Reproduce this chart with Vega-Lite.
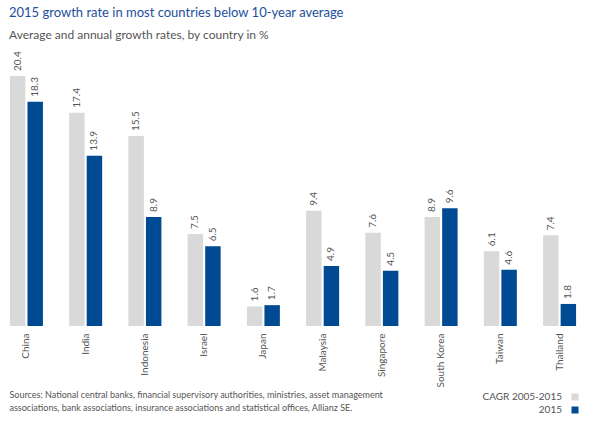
{
  "$schema": "https://vega.github.io/schema/vega-lite/v6.json",
  "width": 578,
  "height": 250,
  "autosize": {"type": "none"},
  "padding": {"left": 4, "top": 76, "right": 14, "bottom": 104},
  "background": "white",
  "title": {
    "text": "2015 growth rate in most countries below 10-year average",
    "subtitle": "Average and annual growth rates, by country in %",
    "anchor": "start",
    "dx": 5,
    "offset": 10,
    "font": "Lato",
    "fontSize": 13,
    "fontWeight": "normal",
    "color": "#1d4f9c",
    "subtitleFont": "Lato",
    "subtitleFontSize": 12,
    "subtitleColor": "#555555",
    "subtitlePadding": 10
  },
  "data": {
    "values": [
      {"Country": "China", "Series": "CAGR 2005-2015", "Rate": 20.4},
      {"Country": "China", "Series": "2015", "Rate": 18.3},
      {"Country": "India", "Series": "CAGR 2005-2015", "Rate": 17.4},
      {"Country": "India", "Series": "2015", "Rate": 13.9},
      {"Country": "Indonesia", "Series": "CAGR 2005-2015", "Rate": 15.5},
      {"Country": "Indonesia", "Series": "2015", "Rate": 8.9},
      {"Country": "Israel", "Series": "CAGR 2005-2015", "Rate": 7.5},
      {"Country": "Israel", "Series": "2015", "Rate": 6.5},
      {"Country": "Japan", "Series": "CAGR 2005-2015", "Rate": 1.6},
      {"Country": "Japan", "Series": "2015", "Rate": 1.7},
      {"Country": "Malaysia", "Series": "CAGR 2005-2015", "Rate": 9.4},
      {"Country": "Malaysia", "Series": "2015", "Rate": 4.9},
      {"Country": "Singapore", "Series": "CAGR 2005-2015", "Rate": 7.6},
      {"Country": "Singapore", "Series": "2015", "Rate": 4.5},
      {"Country": "South Korea", "Series": "CAGR 2005-2015", "Rate": 8.9},
      {"Country": "South Korea", "Series": "2015", "Rate": 9.6},
      {"Country": "Taiwan", "Series": "CAGR 2005-2015", "Rate": 6.1},
      {"Country": "Taiwan", "Series": "2015", "Rate": 4.6},
      {"Country": "Thailand", "Series": "CAGR 2005-2015", "Rate": 7.4},
      {"Country": "Thailand", "Series": "2015", "Rate": 1.8}
    ]
  },
  "encoding": {
    "x": {
      "field": "Country",
      "type": "nominal",
      "sort": null,
      "scale": {"paddingInner": 0.443, "paddingOuter": 0.1},
      "axis": {
        "labelAngle": -90,
        "labelPadding": 7,
        "labelFont": "Lato",
        "labelFontSize": 10,
        "labelColor": "#555555",
        "ticks": false,
        "domain": false,
        "title": [
          "Sources: National central banks, financial supervisory authorities, ministries, asset management",
          "associations, bank associations, insurance associations and statistical offices, Allianz SE."
        ],
        "titleFont": "Lato",
        "titleFontSize": 9,
        "titleFontWeight": "normal",
        "titleColor": "#555555",
        "titleAnchor": "start",
        "titleAlign": "left",
        "titleBaseline": "top",
        "titleLineHeight": 13,
        "titleX": 5,
        "titleY": 64
      }
    },
    "xOffset": {
      "field": "Series",
      "type": "nominal",
      "sort": ["CAGR 2005-2015", "2015"],
      "scale": {"paddingInner": 0.12}
    },
    "y": {
      "field": "Rate",
      "type": "quantitative",
      "scale": {"domain": [0, 20.4], "nice": false},
      "axis": null
    }
  },
  "layer": [
    {
      "mark": {"type": "bar"},
      "encoding": {
        "color": {
          "field": "Series",
          "type": "nominal",
          "sort": ["CAGR 2005-2015", "2015"],
          "scale": {"domain": ["CAGR 2005-2015", "2015"], "range": ["#d9d9d9", "#004a93"]},
          "legend": {
            "title": null,
            "orient": "none",
            "legendX": 566,
            "legendY": 316,
            "padding": 0,
            "symbolType": "square",
            "symbolSize": 49,
            "symbolStrokeWidth": 0,
            "labelAlign": "right",
            "labelOffset": -18,
            "labelFont": "Lato",
            "labelFontSize": 10,
            "labelColor": "#555555",
            "rowPadding": 3
          }
        }
      }
    },
    {
      "mark": {
        "type": "text",
        "angle": 270,
        "align": "left",
        "baseline": "middle",
        "dx": 5,
        "font": "Lato",
        "fontSize": 10,
        "color": "#555555"
      },
      "encoding": {
        "text": {"field": "Rate", "type": "quantitative", "format": ".1f"}
      }
    }
  ],
  "config": {"view": {"stroke": null}}
}
